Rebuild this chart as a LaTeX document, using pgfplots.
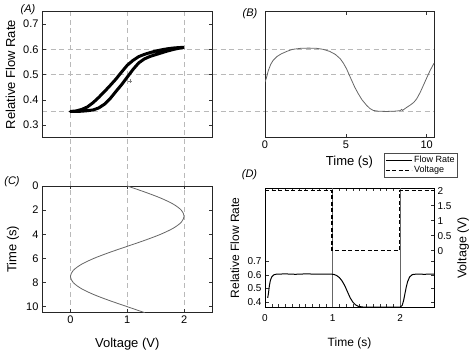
\documentclass[border=0pt]{standalone}
\usepackage{pgfplots}
\pgfplotsset{compat=1.18}
\usepackage{fontspec}
\setmainfont{Liberation Sans}
\usetikzlibrary{backgrounds}

\pgfplotsset{
  every axis/.append style={
    scale only axis, anchor=south west,
    /pgf/number format/assume math mode=true,
    axis line style={line width=0.8pt, black!85},
    tick style={black!80, line width=0.5pt},
    tick align=inside,
    major tick length=3.5pt,
    minor tick length=3pt,
    tick label style={font=\fontsize{11}{12}\selectfont},
    label style={font=\fontsize{13}{14}\selectfont},
    clip=true,
  },
}
\tikzset{guide/.style={gray!55, line width=0.6pt, dash pattern=on 5pt off 3.5pt}}

\begin{document}
\begin{tikzpicture}
\useasboundingbox (0,0) rectangle (474pt,350pt);

% ---------------- (A) ----------------
\begin{axis}[
  at={(42pt,212.3pt)}, width=170.5pt, height=126.2pt,
  xmin=-0.5, xmax=2.5, ymin=0.25, ymax=0.75,
  xtick=\empty, ytick={0.3,0.4,0.5,0.6,0.7},
  ylabel={Relative Flow Rate},
  ylabel style={at={(axis description cs:-0.185,0.5)}, anchor=center},
]
\addplot[black, line width=3pt, line join=round] coordinates {
 (2.0,0.608)(1.9,0.607)(1.8,0.605)(1.7,0.602)(1.6,0.598)(1.5,0.593)(1.4,0.587)(1.3,0.58)
 (1.2,0.571)(1.1,0.556)(1.0,0.537)(0.9,0.51)(0.8,0.482)(0.7,0.457)(0.6,0.433)(0.5,0.41)
 (0.4,0.389)(0.3,0.372)(0.2,0.362)(0.1,0.356)(0.0,0.354)
 (0.1,0.354)(0.2,0.355)(0.3,0.357)(0.4,0.36)(0.5,0.368)(0.6,0.383)(0.7,0.405)(0.8,0.433)
 (0.9,0.46)(1.0,0.49)(1.1,0.52)(1.2,0.546)(1.3,0.562)(1.4,0.572)(1.5,0.579)(1.6,0.586)
 (1.7,0.593)(1.8,0.599)(1.9,0.604)(2.0,0.608)};
\addplot[only marks, mark=+, mark size=2pt, gray] coordinates {(1.05,0.473)};
\coordinate (A0) at (axis cs:0,0.75);
\coordinate (A1) at (axis cs:1,0.75);
\coordinate (A2) at (axis cs:2,0.75);
\coordinate (H6) at (axis cs:-0.5,0.6);
\coordinate (H5) at (axis cs:-0.5,0.5);
\coordinate (H3) at (axis cs:-0.5,0.355);
\end{axis}

% ---------------- (B) ----------------
\begin{axis}[
  at={(265pt,212.3pt)}, width=169pt, height=126.2pt,
  xmin=0, xmax=10.45, ymin=0.25, ymax=0.75,
  xtick={0,5,10}, ytick=\empty,
  xlabel={Time (s)},
  xlabel style={at={(axis description cs:0.5,-0.193)}, anchor=center},
]
\addplot[black!60, line width=0.8pt] coordinates {
 (0,0.47)(0.1,0.49)(0.2,0.515)(0.35,0.54)(0.5,0.556)(0.75,0.572)(1.0,0.582)(1.35,0.592)
 (1.7,0.6)(2.2,0.604)(2.7,0.605)(3.2,0.604)(3.6,0.6)(4.0,0.592)(4.35,0.58)(4.65,0.563)
 (4.85,0.545)(5.05,0.522)(5.2,0.5)(5.36,0.477)(5.55,0.45)(5.77,0.424)(6.0,0.4)(6.3,0.377)
 (6.5,0.365)(6.7,0.358)(7.0,0.355)(7.5,0.354)(8.0,0.355)(8.35,0.357)(8.45,0.362)(8.5,0.358)
 (8.76,0.37)(9.0,0.38)(9.2,0.39)(9.38,0.404)(9.6,0.43)(9.79,0.457)(10.0,0.487)(10.2,0.515)
 (10.45,0.545)};
\coordinate (E6) at (axis cs:10.45,0.6);
\coordinate (E5) at (axis cs:10.45,0.5);
\coordinate (E3) at (axis cs:10.45,0.355);
\end{axis}

% ---------------- (C) ----------------
\begin{axis}[
  at={(42pt,37.3pt)}, width=170.5pt, height=126.7pt,
  xmin=-0.5, xmax=2.5, ymin=0, ymax=10.5, y dir=reverse,
  xtick={0,1,2}, ytick={0,2,4,6,8,10},
  xlabel={Voltage (V)}, ylabel={Time (s)},
  xlabel style={at={(axis description cs:0.5,-0.245)}, anchor=center},
  ylabel style={at={(axis description cs:-0.17,0.5)}, anchor=center},
]
\addplot[black!60, line width=0.8pt, smooth] coordinates {
 (1,0)(1.309,0.5)(1.588,1)(1.809,1.5)(1.951,2)(2,2.5)(1.951,3)(1.809,3.5)(1.588,4)
 (1.309,4.5)(1,5)(0.691,5.5)(0.412,6)(0.191,6.5)(0.049,7)(0,7.5)(0.049,8)(0.191,8.5)
 (0.412,9)(0.691,9.5)(1,10)(1.309,10.5)};
\coordinate (C0) at (axis cs:0,10.5);
\coordinate (C1) at (axis cs:1,10.5);
\coordinate (C2) at (axis cs:2,10.5);
\end{axis}

% ---------------- (D) ----------------
\begin{axis}[
  at={(265pt,42.7pt)}, width=169pt, height=119pt,
  xmin=0, xmax=2.5, ymin=0.36, ymax=1.24,
  xtick={0,1,2}, minor x tick num=9,
  ytick={0.4,0.5,0.6,0.7},
  axis line style={line width=0.6pt, black},
  tick label style={font=\fontsize{10}{11}\selectfont},
  xticklabel style={yshift=-4pt},
  label style={font=\fontsize{12}{13}\selectfont},
  xlabel={Time (s)}, ylabel={Relative Flow Rate},
  xlabel style={at={(axis description cs:0.5,-0.305)}, anchor=center},
  ylabel style={at={(axis description cs:-0.178,0.5)}, anchor=center},
  legend style={at={(axis description cs:0.704,1.297)}, anchor=north west,
    font=\fontsize{9}{10}\selectfont, draw=black!70, inner sep=1pt,
    row sep=-2pt, line width=0.5pt},
  legend cell align=left,
  legend image code/.code={\draw[#1] (0pt,0pt) -- (26pt,0pt);},
]
\addplot[black!60, line width=0.5pt, forget plot] coordinates {(1,0.36)(1,1.24)};
\addplot[black!60, line width=0.5pt, forget plot] coordinates {(2,0.36)(2,1.24)};
\addplot[black, line width=1pt] coordinates {
 (0.04,0.43)(0.05,0.46)(0.065,0.52)(0.08,0.56)(0.1,0.585)(0.13,0.6)(0.17,0.605)(0.3,0.607)
 (0.45,0.604)(0.6,0.607)(0.8,0.605)(0.96,0.606)(1.02,0.603)(1.06,0.595)(1.1,0.58)(1.14,0.555)
 (1.18,0.52)(1.22,0.475)(1.26,0.43)(1.3,0.398)(1.34,0.378)(1.38,0.367)(1.45,0.362)(1.6,0.361)
 (1.8,0.362)(2.0,0.361)(2.03,0.375)(2.05,0.41)(2.07,0.46)(2.09,0.51)(2.11,0.55)(2.14,0.585)
 (2.18,0.602)(2.25,0.606)(2.35,0.604)(2.5,0.606)};
\addlegendentry{Flow Rate}
\addlegendimage{black, line width=0.8pt, dash pattern=on 4pt off 2.5pt}
\addlegendentry{Voltage}
\end{axis}
\begin{axis}[
  at={(265pt,42.7pt)}, width=169pt, height=119pt,
  xmin=0, xmax=2.5, ymin=-1.89, ymax=2.08,
  axis x line=none, axis y line*=right,
  axis line style={line width=0.6pt, black},
  ytick={0,0.5,1,1.5,2},
  tick label style={font=\fontsize{10}{11}\selectfont},
  label style={font=\fontsize{12.5}{13.5}\selectfont},
  ylabel={Voltage (V)},
  ylabel style={at={(axis description cs:1.172,0.5)}, anchor=center},
]
\addplot[black, line width=1.2pt, dash pattern=on 4pt off 2.5pt] coordinates {
 (0,2)(0.99,2)(0.99,0)(1.99,0)(1.99,2)(2.5,2)};
\end{axis}

% guides
\begin{pgfonlayer}{background}
\draw[guide] (A0) -- (C0);
\draw[guide] (A1) -- (C1);
\draw[guide] (A2) -- (C2);
\draw[guide] (H6) -- (E6);
\draw[guide] (H5) -- (E5);
\draw[guide] (H3) -- (E3);
\end{pgfonlayer}

% panel letters
\node[font=\itshape\fontsize{11}{12}\selectfont] at (28pt,340.5pt) {(A)};
\node[font=\itshape\fontsize{11}{12}\selectfont] at (250pt,336.7pt) {(B)};
\node[font=\itshape\fontsize{11}{12}\selectfont] at (12pt,168.3pt) {(C)};
\node[font=\itshape\fontsize{11}{12}\selectfont] at (249.5pt,175pt) {(D)};
\end{tikzpicture}
\end{document}
